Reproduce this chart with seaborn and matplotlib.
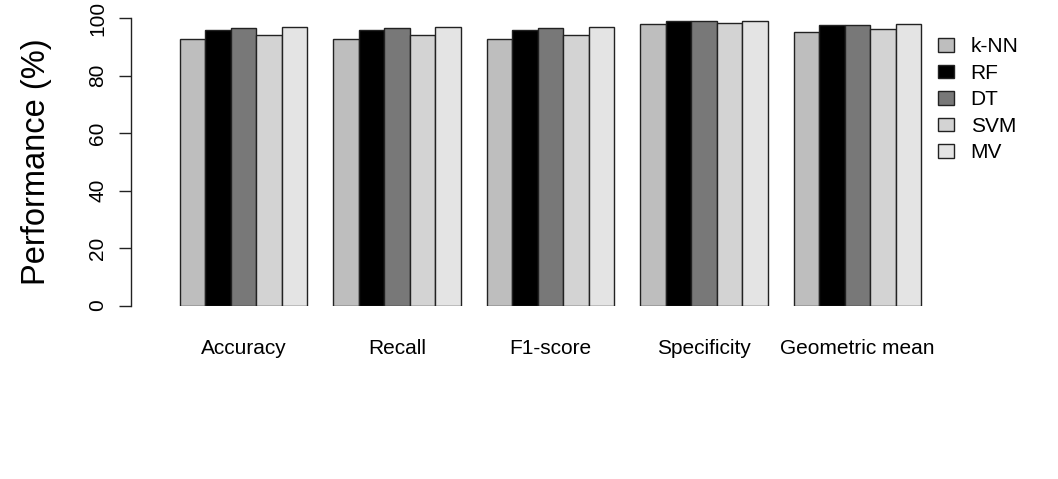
import matplotlib
matplotlib.use("Agg")
import matplotlib.pyplot as plt
import seaborn as sns
import pandas as pd

# values (%)
metrics = ["Accuracy", "Recall", "F1-score", "Specificity", "Geometric mean"]
methods = ["k-NN", "RF", "DT", "SVM", "MV"]
knn = [92.6, 92.6, 92.6, 98.0, 95.3]
rf = [96.0, 96.0, 96.0, 98.8, 97.5]
dt = [96.5, 96.5, 96.5, 99.0, 97.7]
svm = [94.1, 94.1, 94.1, 98.3, 96.1]
mv = [96.8, 96.8, 96.7, 99.0, 97.8]
colors = ["#bebebe", "#000000", "#787878", "#d3d3d3", "#e4e4e4"]
yticks = [0, 20, 40, 60, 80, 100]

rows = []
for name, vals in zip(methods, [knn, rf, dt, svm, mv]):
    for m, v in zip(metrics, vals):
        rows.append({"metric": m, "method": name, "value": v})
df = pd.DataFrame(rows)

sns.set_style("white", {"text.color": "black", "axes.labelcolor": "black",
                        "xtick.color": "black", "ytick.color": "black"})
plt.rcParams["font.family"] = ["Liberation Sans", "DejaVu Sans"]

fig = plt.figure(figsize=(10.58, 4.79), dpi=100)
ax = fig.add_axes([131 / 1058, 1 - 305.5 / 479, 839 / 1058, 287.5 / 479])

sns.barplot(data=df, x="metric", y="value", hue="method", order=metrics,
            hue_order=methods, palette=colors, width=5 / 6,
            edgecolor="#222222", linewidth=1.0, saturation=1, ax=ax)

ax.set_xlim(-0.733, 4.733)
ax.set_ylim(0, 100)
ax.set_yticks(yticks)
ax.set_yticklabels([str(t) for t in yticks], rotation=90, va="center", fontsize=15)
ax.tick_params(axis="y", length=9, width=1, direction="out", pad=8, left=True, color="#222222")
ax.tick_params(axis="x", length=0, pad=24, labelsize=15)
ax.set_xlabel("")
ax.set_ylabel("Performance (%)", fontsize=23.5, labelpad=26)
for s in ["top", "right", "bottom"]:
    ax.spines[s].set_visible(False)
ax.spines["left"].set_color("#222222")
ax.spines["left"].set_linewidth(1)

handles, labels = ax.get_legend_handles_labels()
ax.legend(handles, labels, loc="upper left", bbox_to_anchor=(928 / 1058, 1 - 27 / 479),
          bbox_transform=fig.transFigure, frameon=False, borderpad=0,
          fontsize=15, handlelength=0.75, handleheight=0.6, handletextpad=0.8,
          labelspacing=0.36)

fig.savefig("out.png", dpi=100)
